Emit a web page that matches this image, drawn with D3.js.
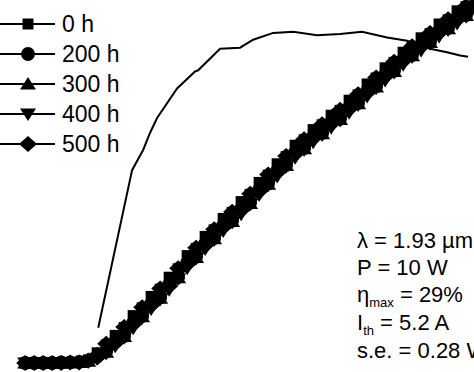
<!DOCTYPE html>
<html>
<head>
<meta charset="utf-8">
<script src="https://cdn.jsdelivr.net/npm/d3@7/dist/d3.min.js"></script>
<style>
	html, body { margin: 0; padding: 0; background: #fff; }
	svg { display: block; font-family: 'Liberation Sans', Arial, sans-serif; }
</style>
</head>
<body>
<div id="chart"></div>
<script>
// drive current (A), shared by all ageing runs
const current = [1.0, 1.5, 2.0, 2.5, 3.0, 3.5, 4.0, 4.5, 5.0, 5.5, 6.0, 6.5, 7.0, 7.5, 8.0, 8.5, 9.0, 9.5, 10.0, 10.5,
	11.0, 11.5, 12.0, 12.5, 13.0, 13.5, 14.0, 14.5, 15.0, 15.5, 16.0, 16.5, 17.0, 17.5, 18.0, 18.5, 19.0, 19.5, 20.0,
	20.5, 21.0, 21.5, 22.0, 22.5, 23.0, 23.5, 24.0, 24.5, 25.0, 25.5, 26.0];

// output power (W) after each ageing time
const power0h = [0.00, 0.00, 0.00, 0.00, 0.00, 0.01, 0.01, 0.05, 0.17, 0.30, 0.46, 0.59, 0.79, 0.92, 1.11, 1.23, 1.43, 1.57, 1.79, 1.91,
	2.11, 2.22, 2.41, 2.51, 2.69, 2.81, 3.01, 3.13, 3.32, 3.44, 3.63, 3.72, 3.89, 3.97, 4.13, 4.21, 4.38, 4.47, 4.65,
	4.75, 4.92, 5.01, 5.18, 5.27, 5.42, 5.49, 5.65, 5.72, 5.87, 5.94, 6.09];
const power200h = [0.00, 0.00, 0.00, 0.00, 0.01, 0.01, 0.02, 0.04, 0.11, 0.19, 0.35, 0.45, 0.67, 0.78, 0.99, 1.09, 1.31, 1.43, 1.67, 1.77,
	1.99, 2.08, 2.29, 2.37, 2.57, 2.67, 2.89, 2.99, 3.20, 3.30, 3.51, 3.58, 3.77, 3.83, 4.01, 4.07, 4.26, 4.33, 4.53,
	4.61, 4.80, 4.87, 5.06, 5.13, 5.30, 5.35, 5.53, 5.58, 5.75, 5.80, 5.97];
const power300h = [0.00, 0.00, 0.00, 0.00, 0.00, 0.00, 0.01, 0.03, 0.16, 0.18, 0.43, 0.44, 0.74, 0.77, 1.06, 1.08, 1.38, 1.42, 1.74, 1.76,
	2.06, 2.07, 2.36, 2.36, 2.64, 2.66, 2.96, 2.98, 3.27, 3.29, 3.58, 3.57, 3.84, 3.82, 4.08, 4.06, 4.33, 4.32, 4.60,
	4.60, 4.87, 4.86, 5.13, 5.12, 5.37, 5.34, 5.60, 5.57, 5.82, 5.79, 6.04];
const power400h = [0.00, 0.00, 0.00, 0.00, 0.00, 0.00, 0.00, 0.02, 0.08, 0.16, 0.28, 0.42, 0.58, 0.75, 0.90, 1.06, 1.22, 1.40, 1.58, 1.74,
	1.90, 2.05, 2.20, 2.34, 2.48, 2.64, 2.80, 2.96, 3.11, 3.27, 3.42, 3.55, 3.68, 3.80, 3.92, 4.04, 4.17, 4.30, 4.44,
	4.58, 4.71, 4.84, 4.97, 5.10, 5.21, 5.32, 5.44, 5.55, 5.66, 5.77, 5.88];
const power500h = [0.00, 0.00, 0.00, 0.00, 0.00, 0.01, 0.01, 0.04, 0.09, 0.32, 0.33, 0.60, 0.64, 0.93, 0.96, 1.24, 1.28, 1.58, 1.64, 1.92,
	1.96, 2.23, 2.26, 2.52, 2.54, 2.82, 2.86, 3.14, 3.17, 3.45, 3.48, 3.73, 3.74, 3.98, 3.98, 4.22, 4.23, 4.48, 4.50,
	4.76, 4.77, 5.02, 5.03, 5.28, 5.27, 5.50, 5.50, 5.73, 5.72, 5.95, 5.94];

const seriesNames = ['0 h', '200 h', '300 h', '400 h', '500 h'];
const seriesPower = [power0h, power200h, power300h, power400h, power500h];

// wall plug efficiency (%) of the fresh device
const effCurrent = [5.06, 6.94, 7.56, 7.94, 8.33, 9.44, 10.44, 10.61, 11.83, 12.94, 13.67, 14.78, 15.89, 17.22, 18.5,
	19.72, 21.11, 22.22, 23.5, 24.44, 25.17, 25.61];
const efficiency = [3.1, 17.0, 18.8, 20.3, 21.6, 24.2, 25.7, 25.8, 27.7, 27.8, 28.5, 29.1, 29.2, 28.9, 29.0,
	29.2, 28.7, 28.4, 27.7, 27.4, 27.1, 27.0];

const notes = ['λ = 1.93 µm', 'P = 10 W', 'η|max|= 29%', 'I|th|= 5.2 A', 's.e. = 0.28 W/A'];

const width = 474, height = 372;

const svg = d3.select('#chart').append('svg')
	.attr('width', width)
	.attr('height', height);

let x = d3.scaleLinear().domain([-0.4, 25.94]).range([0, width]);
let y = d3.scaleLinear().domain([0, 6.05]).range([363, 0]);
let yEff = d3.scaleLinear().domain([0, 32]).range([363, 0]);

// marker outlines, drawn around (0,0)
function markerPath(i) {
	switch(i) {
		case 0: return 'M-5.5,-5.5H5.5V5.5H-5.5Z';
		case 1: return d3.symbol().type(d3.symbolCircle).size(150)();
		case 2: return 'M0,-7L8,5.5H-8Z';
		case 3: return 'M0,7L8,-5.5H-8Z';
		default: return 'M0,-8L9,0L0,8L-9,0Z';
	}
}

// efficiency curve
svg.append('path')
	.datum(effCurrent.map((c, i) => [c, efficiency[i]]))
	.attr('fill', 'none')
	.attr('stroke', '#000')
	.attr('stroke-width', 2)
	.attr('d', d3.line().x(d => x(d[0])).y(d => yEff(d[1])));

// power curves
let line = d3.line().x(d => x(d[0])).y(d => y(d[1]));

seriesPower.forEach((vals, s) => {
	let pts = current.map((c, i) => [c, vals[i]]);

	let g = svg.append('g').attr('class', 'series-' + s);

	g.append('path')
		.datum(pts)
		.attr('fill', 'none')
		.attr('stroke', '#000')
		.attr('stroke-width', 1.5)
		.attr('d', line);

	g.selectAll('path.mk')
		.data(pts)
		.enter()
		.append('path')
		.attr('class', 'mk')
		.attr('d', markerPath(s))
		.attr('fill', '#000')
		.attr('transform', d => `translate(${x(d[0])},${y(d[1])})`);
});

// legend
const legendY = [24, 54, 84, 114, 144];

let legend = svg.append('g').attr('class', 'legend');

seriesNames.forEach((name, i) => {
	let row = legend.append('g').attr('transform', `translate(0,${legendY[i]})`);

	row.append('line')
		.attr('x1', 0).attr('x2', 55)
		.attr('y1', 0).attr('y2', 0)
		.attr('stroke', '#000')
		.attr('stroke-width', 2);

	row.append('path')
		.attr('d', markerPath(i))
		.attr('fill', '#000')
		.attr('transform', 'translate(28,0)');

	row.append('text')
		.attr('x', 62)
		.attr('y', 8)
		.attr('font-size', 23)
		.attr('fill', '#000')
		.text(name);
});

// device parameters
const noteY = [248, 275, 302, 330, 358];

notes.forEach((n, i) => {
	let parts = n.split('|');
	let t = svg.append('text')
		.attr('x', 357)
		.attr('y', noteY[i])
		.attr('font-size', 22)
		.attr('fill', '#000');

	if(parts.length === 1) {
		t.text(n);
	}
	else {
		t.append('tspan').text(parts[0]);
		t.append('tspan').attr('dy', 5).attr('font-size', 13).text(parts[1]);
		t.append('tspan').attr('dy', -5).text(' ' + parts[2]);
	}
});
</script>
</body>
</html>
